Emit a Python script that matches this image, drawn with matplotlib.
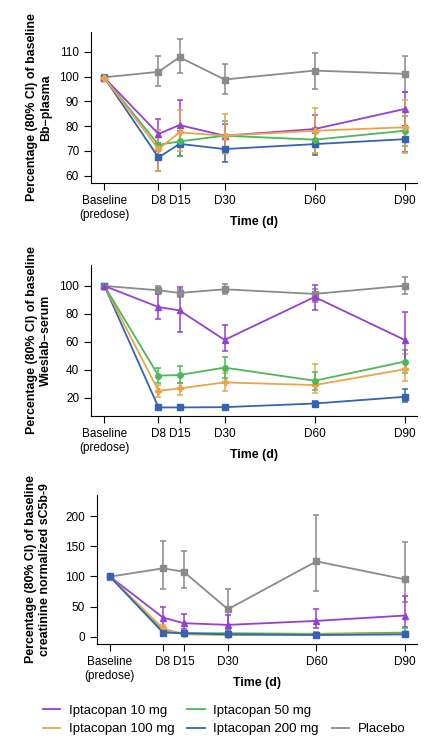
import matplotlib
matplotlib.use("Agg")
import matplotlib.pyplot as plt
from matplotlib.lines import Line2D

plt.rcParams.update({"font.family": ["Liberation Sans", "DejaVu Sans"],
                     "font.size": 8})

# ---------- data --------------------------------------------------------------
days = [-10, 8, 15, 30, 60, 90]
tick_labels = ["Baseline\n(predose)", "D8", "D15", "D30", "D60", "D90"]
groups = ["Iptacopan 10 mg", "Iptacopan 50 mg", "Iptacopan 100 mg",
          "Iptacopan 200 mg", "Placebo"]

# Bb-plasma: mean, lower, upper (80% CI)
bb_10 = [99.5, 76.8, 80.4, 76.1, 78.8, 86.9]
bb_10_lo = [99.5, 70.0, 71.8, 71.1, 73.1, 79.9]
bb_10_hi = [99.5, 82.8, 90.4, 80.8, 84.5, 93.8]
bb_50 = [99.5, 72.4, 73.8, 76.1, 74.5, 78.1]
bb_50_lo = [99.5, 67.7, 67.7, 70.4, 69.1, 72.0]
bb_50_hi = [99.5, 78.5, 79.9, 81.9, 79.2, 84.2]
bb_100 = [99.5, 70.7, 77.4, 76.1, 78.1, 79.5]
bb_100_lo = [99.5, 62.0, 70.1, 68.8, 69.1, 69.3]
bb_100_hi = [99.5, 78.5, 86.6, 85.0, 87.4, 90.4]
bb_200 = [99.5, 67.3, 72.8, 70.7, 72.7, 74.7]
bb_200_lo = [99.5, 62.0, 68.0, 65.4, 68.4, 69.7]
bb_200_hi = [99.5, 73.1, 77.8, 76.1, 77.2, 79.9]
bb_pl = [99.7, 101.9, 107.8, 98.8, 102.4, 101.1]
bb_pl_lo = [99.7, 96.1, 101.5, 93.1, 95.1, 93.9]
bb_pl_hi = [99.7, 108.1, 115.0, 104.9, 109.6, 108.2]

# Wieslab-serum
wl_10 = [100, 84.9, 82.5, 61.4, 92.1, 61.4]
wl_10_lo = [100, 76.3, 67.4, 53.5, 82.5, 40.4]
wl_10_hi = [100, 94.5, 99.3, 72.2, 101.0, 81.6]
wl_50 = [100, 35.8, 36.3, 41.6, 32.2, 45.9]
wl_50_lo = [100, 30.3, 30.3, 33.9, 25.5, 38.0]
wl_50_hi = [100, 41.1, 42.8, 49.5, 38.7, 54.3]
wl_100 = [100, 25.0, 26.7, 31.0, 29.1, 40.4]
wl_100_lo = [100, 20.7, 21.9, 25.0, 23.6, 32.2]
wl_100_hi = [100, 29.1, 30.8, 38.0, 44.2, 51.4]
wl_200 = [100, 13.1, 13.1, 13.3, 15.9, 20.7]
wl_200_lo = [100, 11.9, 12.0, 12.2, 14.5, 16.9]
wl_200_hi = [100, 14.3, 14.2, 14.5, 17.4, 26.0]
wl_pl = [100, 96.9, 95.0, 97.6, 94.3, 100.2]
wl_pl_lo = [100, 94.5, 92.1, 94.0, 88.3, 94.5]
wl_pl_hi = [100, 99.8, 97.8, 101.2, 97.8, 106.2]

# creatinine normalized sC5b-9
sc_10 = [100, 32.0, 22.6, 19.8, 26.4, 35.3]
sc_10_lo = [100, 17.1, 12.7, 10.5, 14.9, 17.1]
sc_10_hi = [100, 50.1, 38.0, 35.8, 46.8, 67.8]
sc_50 = [100, 10.0, 6.0, 6.0, 5.0, 7.0]
sc_50_lo = [100, 6.0, 3.5, 3.5, 3.0, 3.0]
sc_50_hi = [100, 15.0, 9.0, 9.0, 8.0, 14.0]
sc_100 = [100, 14.0, 4.0, 3.0, 4.0, 5.0]
sc_100_lo = [100, 8.0, 2.5, 1.5, 2.5, 3.0]
sc_100_hi = [100, 20.0, 6.0, 5.0, 6.0, 8.0]
sc_200 = [100, 7.0, 6.0, 4.0, 3.0, 4.0]
sc_200_lo = [100, 5.0, 4.5, 3.0, 2.0, 2.5]
sc_200_hi = [100, 9.0, 7.5, 5.5, 4.5, 6.0]
sc_pl = [99.7, 113.5, 108.0, 45.7, 125.1, 95.3]
sc_pl_lo = [99.7, 79.9, 81.5, 20.0, 76.6, 57.9]
sc_pl_hi = [99.7, 159.2, 142.7, 79.9, 201.7, 157.6]

colors = {"Iptacopan 10 mg": "#9440d4", "Iptacopan 50 mg": "#4cb85a",
          "Iptacopan 100 mg": "#e9a54c", "Iptacopan 200 mg": "#3563b3",
          "Placebo": "#8a8a8a"}
markers = {"Iptacopan 10 mg": "^", "Iptacopan 50 mg": "o",
           "Iptacopan 100 mg": "P", "Iptacopan 200 mg": "s",
           "Placebo": "s"}

panels = [
    dict(label="Percentage (80% CI) of baseline\nBb\u2212plasma",
         ylim=(57, 118), yticks=[60, 70, 80, 90, 100, 110],
         pos=[0.209, 0.7534, 0.749, 0.2035], labx=-0.12,
         series={"Placebo": (bb_pl, bb_pl_lo, bb_pl_hi),
                 "Iptacopan 200 mg": (bb_200, bb_200_lo, bb_200_hi),
                 "Iptacopan 50 mg": (bb_50, bb_50_lo, bb_50_hi),
                 "Iptacopan 10 mg": (bb_10, bb_10_lo, bb_10_hi),
                 "Iptacopan 100 mg": (bb_100, bb_100_lo, bb_100_hi)}),
    dict(label="Percentage (80% CI) of baseline\nWieslab\u2212serum",
         ylim=(7, 115), yticks=[20, 40, 60, 80, 100],
         pos=[0.209, 0.4394, 0.749, 0.2035], labx=-0.12,
         series={"Placebo": (wl_pl, wl_pl_lo, wl_pl_hi),
                 "Iptacopan 200 mg": (wl_200, wl_200_lo, wl_200_hi),
                 "Iptacopan 100 mg": (wl_100, wl_100_lo, wl_100_hi),
                 "Iptacopan 50 mg": (wl_50, wl_50_lo, wl_50_hi),
                 "Iptacopan 10 mg": (wl_10, wl_10_lo, wl_10_hi)}),
    dict(label="Percentage (80% CI) of baseline\ncreatinine normalized sC5b-9",
         ylim=(-12, 235), yticks=[0, 50, 100, 150, 200],
         pos=[0.222, 0.132, 0.736, 0.2008], labx=-0.143,
         series={"Placebo": (sc_pl, sc_pl_lo, sc_pl_hi),
                 "Iptacopan 10 mg": (sc_10, sc_10_lo, sc_10_hi),
                 "Iptacopan 50 mg": (sc_50, sc_50_lo, sc_50_hi),
                 "Iptacopan 100 mg": (sc_100, sc_100_lo, sc_100_hi),
                 "Iptacopan 200 mg": (sc_200, sc_200_lo, sc_200_hi)}),
]

# ---------- drawing -----------------------------------------------------------
fig = plt.figure(figsize=(4.35, 7.42), dpi=100)

for p in panels:
    ax = fig.add_axes(p["pos"])
    for name, (mean, lo, hi) in p["series"].items():
        err = [[m - l for m, l in zip(mean, lo)],
               [h - m for m, h in zip(mean, hi)]]
        ax.errorbar(days, mean, yerr=err, color=colors[name],
                    marker=markers[name], markersize=4, linewidth=1.3,
                    elinewidth=1.1, capsize=2.5, capthick=1.1)
    ax.set_xlim(-14.5, 94)
    ax.set_ylim(*p["ylim"])
    ax.set_yticks(p["yticks"])
    ax.set_xticks(days)
    ax.set_xticklabels(tick_labels)
    ax.spines[["top", "right"]].set_visible(False)
    ax.tick_params(direction="out", length=5, labelsize=8.5)
    ax.set_xlabel("Time (d)", fontsize=8.9, fontweight="bold", labelpad=-3)
    ax.set_ylabel(p["label"], fontsize=8.9, fontweight="bold")
    ax.yaxis.set_label_coords(p["labx"], 0.5)

# legend: blank slot so Placebo sits on the second row
order = ["Iptacopan 10 mg", "Iptacopan 100 mg", "Iptacopan 50 mg",
         "Iptacopan 200 mg", None, "Placebo"]
handles, labels = [], []
for name in order:
    if name is None:
        handles.append(Line2D([], [], linestyle="none"))
        labels.append("")
    else:
        handles.append(Line2D([], [], color=colors[name], linewidth=1.3))
        labels.append(name)
fig.legend(handles, labels, ncol=3, frameon=False, fontsize=9.5,
           loc="center left", bbox_to_anchor=(0.083, 0.0296),
           borderpad=0, handlelength=1.3, handletextpad=0.66,
           columnspacing=1.0, labelspacing=0.45)

fig.savefig("out.png", dpi=100)
